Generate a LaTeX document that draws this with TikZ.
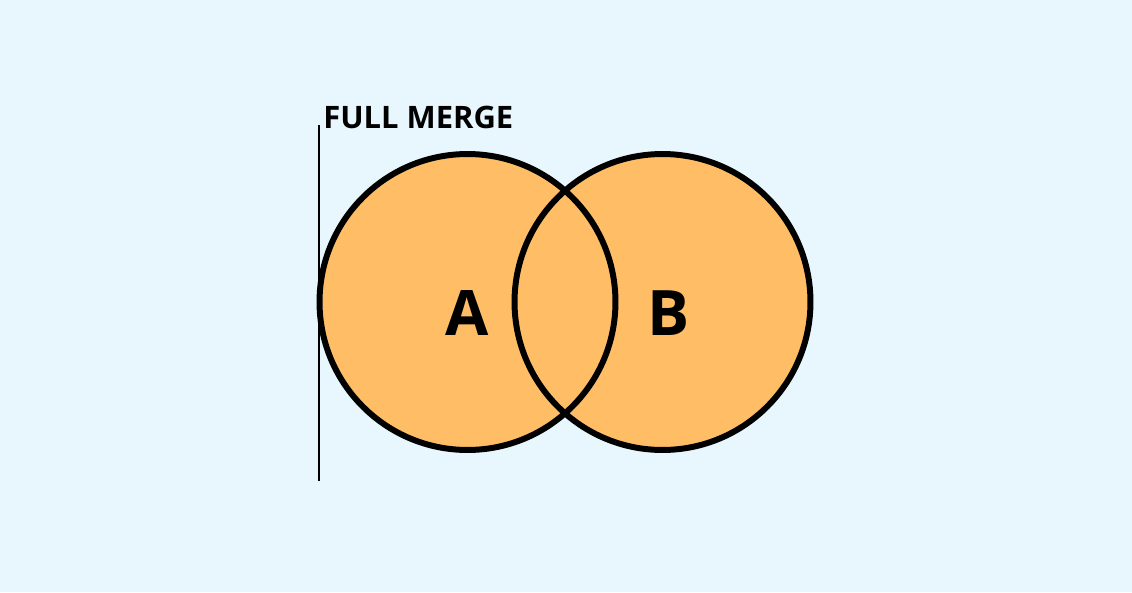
\documentclass[tikz,border=0pt]{standalone}
\usepackage{fontspec}
\setmainfont{Open Sans}
\definecolor{bg}{HTML}{E8F6FE}
\definecolor{fillc}{HTML}{FFBD66}
\begin{document}
\begin{tikzpicture}[x=0.02cm,y=-0.02cm,
  circ/.style={line width=3.4pt,draw=black}]
\fill[bg] (0,0) rectangle (1132,592);
\useasboundingbox (0,0) rectangle (1132,592);
\coordinate (ca) at (467.5,302);
\coordinate (cb) at (662.5,302);
\fill[fillc] (ca) circle[radius=2.96cm];
\fill[fillc] (cb) circle[radius=2.96cm];
\draw[circ] (ca) circle[radius=2.96cm];
\draw[circ] (cb) circle[radius=2.96cm];
\coordinate (lt) at (319,125);
\coordinate (lb) at (319,481);
\draw[line width=1.2pt] (lt) -- (lb);
\node[anchor=base west,inner sep=0,font=\bfseries\fontsize{17.6}{20}\selectfont] (title) at (323,128) {FULL MERGE};
\node[anchor=base,inner sep=0,font=\bfseries\fontsize{35.7}{40}\selectfont] (A) at (467,335) {A};
\node[anchor=base,inner sep=0,font=\bfseries\fontsize{35.7}{40}\selectfont] (B) at (669,335) {B};
\end{tikzpicture}
\end{document}
